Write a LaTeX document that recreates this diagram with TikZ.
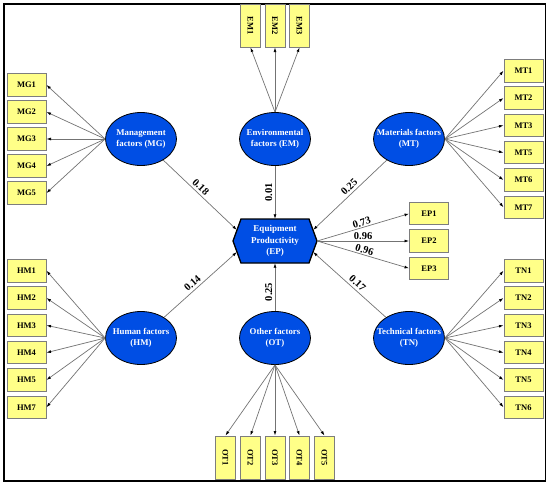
\documentclass[tikz,border=0pt]{standalone}
\usepackage{fontspec}
\setmainfont{Liberation Serif}
\usetikzlibrary{shapes.geometric,arrows.meta,calc}
\definecolor{latblue}{RGB}{0,78,228}
\definecolor{indyel}{RGB}{255,255,136}
\definecolor{indgray}{RGB}{125,125,125}
\definecolor{lngray}{RGB}{115,115,115}
\begin{document}
\begin{tikzpicture}[x=1pt,y=-1pt,
  latent/.style={ellipse,draw=black,line width=0.8pt,fill=latblue,minimum width=71pt,minimum height=53pt,inner xsep=-9pt,inner ysep=0pt,text=white,font=\bfseries\fontsize{8.8}{11.5}\selectfont,align=center},
  eptext/.style={minimum width=84pt,minimum height=44pt,inner sep=0pt,text=white,font=\bfseries\fontsize{9}{11.3}\selectfont,align=center},
  ind/.style={draw=indgray,line width=1pt,fill=indyel,minimum width=39pt,minimum height=22.5pt,inner sep=0pt,font=\bfseries\fontsize{8.5}{10}\selectfont},
  vind/.style={ind,minimum width=20pt,minimum height=43pt},
  arr/.style={draw=lngray,line width=0.7pt,-{Latex[length=4.5pt,width=3pt,color=black]}},
  coef/.style={font=\bfseries\fontsize{10.5}{12}\selectfont,inner sep=2.5pt}
]
\useasboundingbox (0,0) rectangle (550,488);
\draw[line width=1.6pt] (4,4) rectangle (545.5,481);

% latent variables
\node[latent] (MG) at (141,139) {Management\\factors (MG)};
\node[latent] (EM) at (275,139) {Environmental\\factors (EM)};
\node[latent] (MT) at (409,139) {Materials factors\\(MT)};
\node[latent] (HM) at (141,338) {Human factors\\(HM)};
\node[latent] (OT) at (275,338) {Other factors\\(OT)};
\node[latent] (TN) at (409,338) {Technical factors\\(TN)};

% central hexagon
\coordinate (epc) at (275,241);
\filldraw[fill=latblue,draw=black,line width=1.3pt]
  ($(epc)+(-42,0)$) -- ($(epc)+(-34,-22)$) -- ($(epc)+(34,-22)$) --
  ($(epc)+(42,0)$) -- ($(epc)+(34,22)$) -- ($(epc)+(-34,22)$) -- cycle;
\node[eptext] (EP) at (epc) {Equipment\\Productivity\\(EP)};
\coordinate (epUL) at ($(EP.west)!0.5!(EP.north west)+(4,0)$);
\coordinate (epUR) at ($(EP.east)!0.5!(EP.north east)+(-4,0)$);
\coordinate (epLL) at ($(EP.west)!0.5!(EP.south west)+(4,0)$);
\coordinate (epLR) at ($(EP.east)!0.5!(EP.south east)+(-4,0)$);

% structural paths
\draw[arr] (MG) -- node[coef,sloped,above,pos=0.45]{0.18} (epUL);
\draw[arr] (EM) -- node[coef,rotate=90,anchor=south]{0.01} (EP.north);
\draw[arr] (MT) -- node[coef,sloped,above,pos=0.45]{0.25} (epUR);
\draw[arr] (HM) -- node[coef,sloped,above,pos=0.45]{0.14} (epLL);
\draw[arr] (OT) -- node[coef,rotate=90,anchor=south,pos=0.4]{0.25} (EP.south);
\draw[arr] (TN) -- node[coef,sloped,above,pos=0.45]{0.17} (epLR);

% EP indicators
\node[ind] (EP1) at (429,213.7) {EP1};
\node[ind] (EP2) at (429,241) {EP2};
\node[ind] (EP3) at (429,268.3) {EP3};
\draw[arr] (EP.east) -- node[coef,sloped,above,inner sep=1pt]{0.73} (EP1.west);
\draw[arr] (EP.east) -- node[coef,sloped,above,inner sep=1pt]{0.96} (EP2.west);
\draw[arr] (EP.east) -- node[coef,sloped,above,inner sep=1pt]{0.96} (EP3.west);

% MG indicators
\foreach \n/\yy in {1/85,2/112,3/139,4/166,5/193}{
  \node[ind] (MG\n) at (26.5,\yy) {MG\n};
  \draw[arr] (MG.west) -- (MG\n.east);
}
% MT indicators
\foreach \n/\yy in {1/70.75,2/98.05,3/125.35,5/152.65,6/179.95,7/207.25}{
  \node[ind] (MT\n) at (523.5,\yy) {MT\n};
  \draw[arr] (MT.east) -- (MT\n.west);
}
% HM indicators
\foreach \n/\yy in {1/270.75,2/298.05,3/325.35,4/352.65,5/379.95,7/407.25}{
  \node[ind] (HM\n) at (26.5,\yy) {HM\n};
  \draw[arr] (HM.west) -- (HM\n.east);
}
% TN indicators
\foreach \n/\yy in {1/270.75,2/298.05,3/325.35,4/352.65,5/379.95,6/407.25}{
  \node[ind] (TN\n) at (523.5,\yy) {TN\n};
  \draw[arr] (TN.east) -- (TN\n.west);
}
% EM indicators
\foreach \n/\xx in {1/250.5,2/275,3/299.5}{
  \node[vind] (EM\n) at (\xx,25.5) {\rotatebox{-90}{EM\n}};
  \draw[arr] (EM.north) -- (EM\n.south);
}
% OT indicators
\foreach \n/\xx in {1/225.5,2/250.5,3/275,4/299.5,5/324.5}{
  \node[vind] (OT\n) at (\xx,457.5) {\rotatebox{-90}{OT\n}};
  \draw[arr] (OT.south) -- (OT\n.north);
}
\end{tikzpicture}
\end{document}
